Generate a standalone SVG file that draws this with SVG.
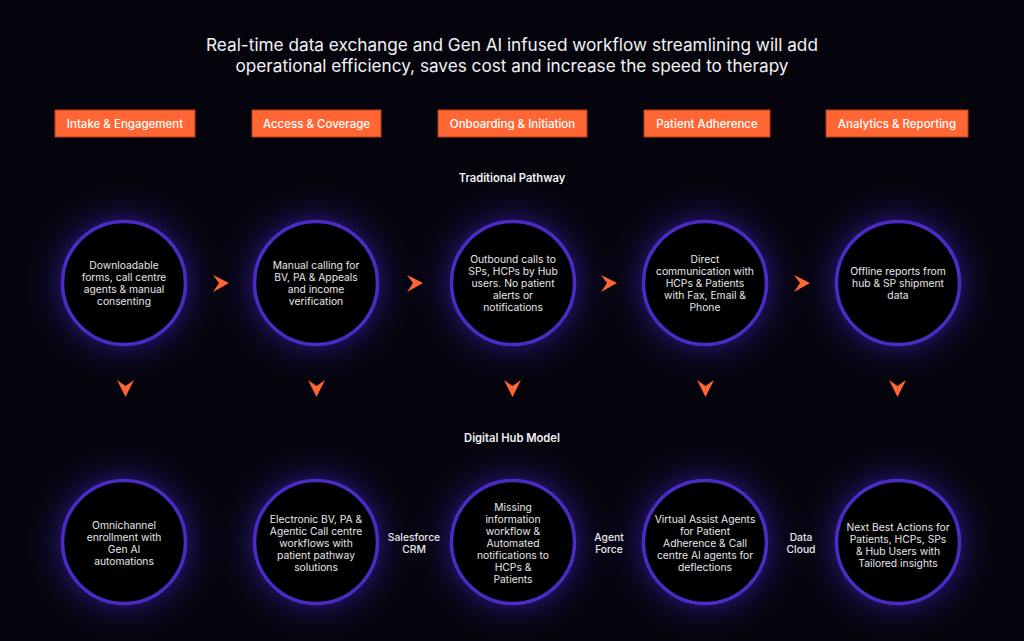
<svg xmlns="http://www.w3.org/2000/svg" width="1024" height="641" viewBox="0 0 1024 641">
  <defs>
    <radialGradient id="glow" cx="0.5" cy="0.5" r="0.5">
      <stop offset="0" stop-color="#3a1ca8" stop-opacity="0.5"/>
      <stop offset="0.6" stop-color="#3a1ca8" stop-opacity="0.42"/>
      <stop offset="0.72" stop-color="#2c1586" stop-opacity="0.2"/>
      <stop offset="0.86" stop-color="#1e0e60" stop-opacity="0.07"/>
      <stop offset="1" stop-color="#1a0c50" stop-opacity="0"/>
    </radialGradient>
    <style>
      .title { font-family: Inter, "Liberation Sans", sans-serif; font-size: 17.2px; fill: #f2f2f5; text-anchor: middle; }
      .hdr rect { fill: #ff6633; stroke: #b83c17; stroke-width: 1; }
      .hdr text { font-family: Inter, "Liberation Sans", sans-serif; font-size: 11.5px; font-weight: 500; fill: #ffffff; text-anchor: middle; }
      .sec { font-family: Inter, "Liberation Sans", sans-serif; font-size: 11.2px; font-weight: 600; fill: #f2f2f5; text-anchor: middle; }
      .glow { fill: url(#glow); }
      .ring { fill: #000000; stroke: #4a2cc4; stroke-width: 3.5; }
      .node text { font-family: Inter, "Liberation Sans", sans-serif; font-size: 10.3px; fill: #e6e6ea; text-anchor: middle; }
      .lbl { font-family: Inter, "Liberation Sans", sans-serif; font-size: 10.3px; font-weight: 500; fill: #e6e6ea; text-anchor: middle; }
      .arrow { fill: #ff6633; }
    </style>
  </defs>

  <rect width="1024" height="641" fill="#05040c"/>

  <text class="title" x="512" y="51">Real-time data exchange and Gen AI infused workflow streamlining will add</text>
  <text class="title" x="512" y="72">operational efficiency, saves cost and increase the speed to therapy</text>

  <g id="hdr-intake" class="hdr"><rect x="55" y="110" width="140" height="27"/><text x="125" y="127.5">Intake &amp; Engagement</text></g>
  <g id="hdr-access" class="hdr"><rect x="252" y="110" width="129" height="27"/><text x="316.5" y="127.5">Access &amp; Coverage</text></g>
  <g id="hdr-onboarding" class="hdr"><rect x="438" y="110" width="149" height="27"/><text x="512.5" y="127.5">Onboarding &amp; Initiation</text></g>
  <g id="hdr-adherence" class="hdr"><rect x="644" y="110" width="126" height="27"/><text x="707" y="127.5">Patient Adherence</text></g>
  <g id="hdr-analytics" class="hdr"><rect x="826" y="110" width="142" height="27"/><text x="897" y="127.5">Analytics &amp; Reporting</text></g>

  <text class="sec" x="512" y="182">Traditional Pathway</text>
  <text class="sec" x="512" y="442">Digital Hub Model</text>

  <!-- glows -->
  <g id="glows">
    <circle class="glow" cx="124" cy="283" r="105"/>
    <circle class="glow" cx="316" cy="283" r="105"/>
    <circle class="glow" cx="513" cy="283" r="105"/>
    <circle class="glow" cx="705" cy="283" r="105"/>
    <circle class="glow" cx="898" cy="283" r="105"/>
    <circle class="glow" cx="124" cy="542" r="105"/>
    <circle class="glow" cx="316" cy="542" r="105"/>
    <circle class="glow" cx="513" cy="542" r="105"/>
    <circle class="glow" cx="705" cy="542" r="105"/>
    <circle class="glow" cx="898" cy="542" r="105"/>
  </g>

  <!-- Traditional pathway nodes -->
  <g id="trad-intake" class="node">
    <circle class="ring" cx="124" cy="283" r="61.5"/>
    <text x="124" y="269">Downloadable</text>
    <text x="124" y="281">forms, call centre</text>
    <text x="124" y="293">agents &amp; manual</text>
    <text x="124" y="305">consenting</text>
  </g>
  <g id="trad-access" class="node">
    <circle class="ring" cx="316" cy="283" r="61.5"/>
    <text x="316" y="269">Manual calling for</text>
    <text x="316" y="281">BV, PA &amp; Appeals</text>
    <text x="316" y="293">and income</text>
    <text x="316" y="305">verification</text>
  </g>
  <g id="trad-onboarding" class="node">
    <circle class="ring" cx="513" cy="283" r="61.5"/>
    <text x="513" y="263">Outbound calls to</text>
    <text x="513" y="275">SPs, HCPs by Hub</text>
    <text x="513" y="287">users. No patient</text>
    <text x="513" y="299">alerts or</text>
    <text x="513" y="311">notifications</text>
  </g>
  <g id="trad-adherence" class="node">
    <circle class="ring" cx="705" cy="283" r="61.5"/>
    <text x="705" y="263">Direct</text>
    <text x="705" y="275">communication with</text>
    <text x="705" y="287">HCPs &amp; Patients</text>
    <text x="705" y="299">with Fax, Email &amp;</text>
    <text x="705" y="311">Phone</text>
  </g>
  <g id="trad-analytics" class="node">
    <circle class="ring" cx="898" cy="283" r="61.5"/>
    <text x="898" y="275">Offline reports from</text>
    <text x="898" y="287">hub &amp; SP shipment</text>
    <text x="898" y="299">data</text>
  </g>

  <!-- Digital hub nodes -->
  <g id="digi-intake" class="node">
    <circle class="ring" cx="124" cy="542" r="61.5"/>
    <text x="124" y="529">Omnichannel</text>
    <text x="124" y="541">enrollment with</text>
    <text x="124" y="553">Gen AI</text>
    <text x="124" y="565">automations</text>
  </g>
  <g id="digi-access" class="node">
    <circle class="ring" cx="316" cy="542" r="61.5"/>
    <text x="316" y="523">Electronic BV, PA &amp;</text>
    <text x="316" y="535">Agentic Call centre</text>
    <text x="316" y="547">workflows with</text>
    <text x="316" y="559">patient pathway</text>
    <text x="316" y="571">solutions</text>
  </g>
  <g id="digi-onboarding" class="node">
    <circle class="ring" cx="513" cy="542" r="61.5"/>
    <text x="513" y="511">Missing</text>
    <text x="513" y="523">information</text>
    <text x="513" y="535">workflow &amp;</text>
    <text x="513" y="547">Automated</text>
    <text x="513" y="559">notifications to</text>
    <text x="513" y="571">HCPs &amp;</text>
    <text x="513" y="583">Patients</text>
  </g>
  <g id="digi-adherence" class="node">
    <circle class="ring" cx="705" cy="542" r="61.5"/>
    <text x="705" y="523">Virtual Assist Agents</text>
    <text x="705" y="535">for Patient</text>
    <text x="705" y="547">Adherence &amp; Call</text>
    <text x="705" y="559">centre AI agents for</text>
    <text x="705" y="571">deflections</text>
  </g>
  <g id="digi-analytics" class="node">
    <circle class="ring" cx="898" cy="542" r="61.5"/>
    <text x="898" y="531">Next Best Actions for</text>
    <text x="898" y="543">Patients, HCPs, SPs</text>
    <text x="898" y="555">&amp; Hub Users with</text>
    <text x="898" y="567">Tailored insights</text>
  </g>

  <!-- connectors -->
  <g id="connectors">
    <polygon class="arrow" points="213,275 229,283 213,292 219,283"/>
    <polygon class="arrow" points="407,275 423,283 407,292 413,283"/>
    <polygon class="arrow" points="601,275 617,283 601,292 607,283"/>
    <polygon class="arrow" points="794,275 810,283 794,292 800,283"/>

    <polygon class="arrow" points="117,380 125.5,386 134,380 125.5,397"/>
    <polygon class="arrow" points="308,380 316.5,386 325,380 316.5,397"/>
    <polygon class="arrow" points="504,380 512.5,386 521,380 512.5,397"/>
    <polygon class="arrow" points="697,380 705.5,386 714,380 705.5,397"/>
    <polygon class="arrow" points="889,380 897.5,386 906,380 897.5,397"/>

    <text class="lbl" x="414" y="541">Salesforce</text>
    <text class="lbl" x="414" y="553">CRM</text>
    <text class="lbl" x="609" y="541">Agent</text>
    <text class="lbl" x="609" y="553">Force</text>
    <text class="lbl" x="801" y="541">Data</text>
    <text class="lbl" x="801" y="553">Cloud</text>
  </g>
</svg>
